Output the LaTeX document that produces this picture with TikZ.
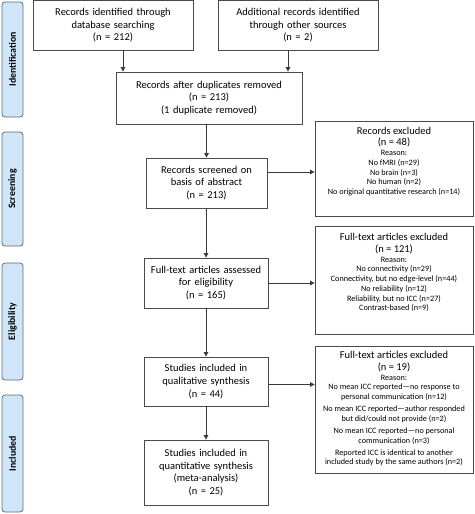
\documentclass[tikz,border=0pt]{standalone}
\usepackage{fontspec}
\setmainfont{Carlito}
\usetikzlibrary{arrows.meta}
\definecolor{boxc}{HTML}{4A4A4A}
\definecolor{linec}{HTML}{3A3A3A}
\definecolor{phasefill}{HTML}{CFE6F8}
\definecolor{phasec}{HTML}{5F6B78}
\newcommand\ttlfont{\fontsize{10.5}{11.6}\selectfont}
\newcommand\smlfont{\fontsize{8.2}{9.7}\selectfont}
\begin{document}
\begin{tikzpicture}[x=1pt,y=-1pt,
  box/.style={draw=boxc, line width=0.8pt, fill=white, align=center, inner xsep=0pt, inner ysep=0pt,
    font=\fontsize{10.5}{12.6}\selectfont},
  exbox/.style={draw=boxc, line width=0.8pt, fill=white, inner sep=0pt, minimum width=158pt},
  extext/.style={inner sep=0pt, anchor=north, font=\smlfont},
  phase/.style={draw=phasec, fill=phasefill, rounded corners=3pt, line width=0.8pt,
    font=\bfseries\fontsize{9.8}{11}\selectfont, rotate=90, inner sep=0pt, minimum height=21pt},
  arr/.style={draw=linec, line width=0.8pt, -{Triangle[width=4.5pt,length=4.5pt]}}
]
\useasboundingbox (0,0) rectangle (474,514);

% phase bars
\node[phase, minimum width=115pt] (pid) at (12.5,59.5) {Identification};
\node[phase, minimum width=114pt] (psc) at (12.5,189) {Screening};
\node[phase, minimum width=117pt] (pel) at (12.5,321.5) {Eligibility};
\node[phase, minimum width=117pt] (pin) at (12.5,453.5) {Included};

% main boxes
\node[box, minimum width=160pt, minimum height=49.5pt, text width=158pt] (a) at (113,25.25)
  {Records identified through\\database searching\\(n = 212)};
\node[box, minimum width=160pt, minimum height=49.5pt, text width=158pt] (b) at (298,25.25)
  {Additional records identified\\through other sources\\(n = 2)};
\node[box, minimum width=186pt, minimum height=52pt, text width=184pt] (c) at (209,98)
  {Records after duplicates removed\\(n = 213)\\(1 duplicate removed)};
\node[box, minimum width=121pt, minimum height=50pt, text width=119pt] (d) at (206.5,183)
  {Records screened on\\basis of abstract\\(n = 213)};
\node[box, minimum width=124pt, minimum height=50pt, text width=122pt] (e) at (206,283)
  {Full-text articles assessed\\for eligibility\\(n = 165)};
\node[box, minimum width=124pt, minimum height=49pt, text width=122pt] (f) at (206,381.5)
  {Studies included in\\qualitative synthesis\\(n = 44)};
\node[box, minimum width=124pt, minimum height=65pt, text width=122pt] (g) at (206,472.5)
  {Studies included in\\quantitative synthesis\\(meta-analysis)\\(n = 25)};

% exclusion boxes
\node[exbox, minimum height=95pt] (r1) at (394,168.5) {};
\node[extext] (t1) at (394,127)
  {\begin{tabular}{@{}c@{}}
   \ttlfont Records excluded\\[0.8pt]
   \ttlfont (n = 48)\\[0.2pt]
   Reason:\\No fMRI (n=29)\\No brain (n=3)\\No human (n=2)\\No original quantitative research (n=14)
   \end{tabular}};
\node[exbox, minimum height=108pt] (r2) at (394,280) {};
\node[extext] (t2) at (394,233.5)
  {\begin{tabular}{@{}c@{}}
   \ttlfont Full-text articles excluded\\[0.8pt]
   \ttlfont (n = 121)\\[0.2pt]
   Reason:\\No connectivity (n=29)\\Connectivity, but no edge-level (n=44)\\No reliability (n=12)\\Reliability, but no ICC (n=27)\\Contrast-based (n=9)
   \end{tabular}};
\node[exbox, minimum height=127pt] (r3) at (394,409.5) {};
\node[extext] (t3) at (394,351.5)
  {\begin{tabular}{@{}c@{}}
   \ttlfont Full-text articles excluded\\[0.8pt]
   \ttlfont (n = 19)\\[0.2pt]
   Reason:\\No mean ICC reported\textemdash no response to\\personal communication (n=12)\\[2.3pt]
   No mean ICC reported\textemdash author responded\\but did/could not provide (n=2)\\[2.3pt]
   No mean ICC reported\textemdash no personal\\communication (n=3)\\[2.3pt]
   Reported ICC is identical to another\\included study by the same authors (n=2)
   \end{tabular}};

% connectors
\draw[arr] ([xshift=10pt]a.south) -- ([xshift=10pt]a.south |- c.north);
\draw[arr] ([xshift=-10pt]b.south) -- ([xshift=-10pt]b.south |- c.north);
\draw[arr] (c.south -| d.north) -- (d.north);
\draw[arr] (d.south -| e.north) -- (e.north);
\draw[arr] (e.south -| f.north) -- (f.north);
\draw[arr] (f.south -| g.north) -- (g.north);
\draw[arr] ([yshift=11pt]d.east) -- ([yshift=11pt]d.east -| r1.west);
\draw[arr] (e.east) -- (e.east -| r2.west);
\draw[arr] ([yshift=-3pt]f.east) -- ([yshift=-3pt]f.east -| r3.west);
\end{tikzpicture}
\end{document}
